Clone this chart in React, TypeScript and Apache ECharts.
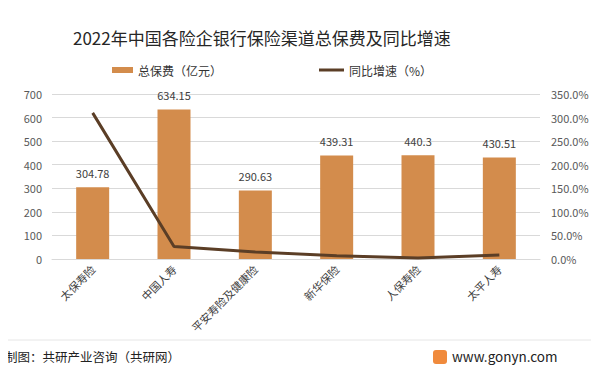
import React, { useEffect, useRef } from "react";
import * as echarts from "echarts";

const categories = ["太保寿险", "中国人寿", "平安寿险及健康险", "新华保险", "人保寿险", "太平人寿"];
const premiums = [304.78, 634.15, 290.63, 439.31, 440.3, 430.51];
const growth = [310, 26.7, 15, 7, 2, 8.5];
const leftTicks = { min: 0, max: 700, interval: 100 };
const rightTicks = { min: 0, max: 350, interval: 50 };

export default function App() {
  const ref = useRef<HTMLDivElement>(null);
  useEffect(() => {
    const chart = echarts.init(ref.current!, null, { renderer: "svg" });
    const font = "'Microsoft YaHei', 'Noto Sans CJK SC', sans-serif";
    const legendText = { fontSize: 12, color: "#333", fontFamily: font };
    chart.setOption({
      animation: false,
      backgroundColor: "#ffffff",
      title: {
        text: "2022年中国各险企银行保险渠道总保费及同比增速",
        left: 68,
        top: 24,
        textStyle: { fontSize: 17, fontWeight: "normal", color: "#262626", fontFamily: font },
      },
      legend: [
        {
          top: 59,
          left: 107,
          itemWidth: 21,
          itemHeight: 6,
          itemGap: 5,
          textStyle: legendText,
          data: [{ name: "总保费（亿元）", icon: "rect" }],
        },
        {
          top: 59,
          left: 314,
          itemWidth: 25,
          itemHeight: 3,
          textStyle: legendText,
          data: [{ name: "同比增速（%）", icon: "rect", itemStyle: { color: "#5b3e26" } }],
        },
      ],
      grid: { left: 52, right: 59, top: 94, bottom: 117 },
      xAxis: {
        type: "category",
        data: categories,
        axisLine: { lineStyle: { color: "#d9d9d9" } },
        axisTick: { show: false },
        axisLabel: { rotate: 45, fontSize: 11, color: "#404040", fontFamily: font, margin: 8 },
      },
      yAxis: [
        {
          type: "value",
          ...leftTicks,
          axisLine: { show: false },
          axisTick: { show: false },
          splitLine: { lineStyle: { color: "#d9d9d9" } },
          axisLabel: { fontSize: 11, color: "#595959", fontFamily: font, margin: 10 },
        },
        {
          type: "value",
          ...rightTicks,
          axisLine: { show: false },
          axisTick: { show: false },
          splitLine: { show: false },
          axisLabel: {
            fontSize: 11,
            color: "#595959",
            fontFamily: font,
            margin: 11,
            formatter: (v: number) => v.toFixed(1) + "%",
          },
        },
      ],
      series: [
        {
          name: "总保费（亿元）",
          type: "bar",
          data: premiums,
          barWidth: 33,
          itemStyle: { color: "#d38c4c" },
          label: {
            show: true,
            position: "top",
            distance: 9,
            fontSize: 11,
            color: "#404040",
            fontFamily: font,
          },
        },
        {
          name: "同比增速（%）",
          type: "line",
          yAxisIndex: 1,
          data: growth,
          symbol: "none",
          lineStyle: { color: "#5b3e26", width: 3 },
          itemStyle: { color: "#5b3e26" },
        },
      ],
      graphic: [
        { type: "line", shape: { x1: 0, y1: 340, x2: 599, y2: 340 }, style: { stroke: "#e6e6e6", lineWidth: 1 } },
        {
          type: "text",
          left: 5,
          top: 350,
          style: { text: "制图：共研产业咨询（共研网）", fontSize: 12.5, fill: "#222", fontFamily: font },
        },
        { type: "rect", shape: { x: 433, y: 350, width: 14, height: 14, r: 3 }, style: { fill: "#f08a3c" } },
        {
          type: "text",
          left: 452,
          top: 349,
          style: { text: "www.gonyn.com", fontSize: 13.5, fill: "#222", fontFamily: font },
        },
      ],
    });
    return () => chart.dispose();
  }, []);
  return <div ref={ref} style={{ width: 599, height: 376, margin: -8 }} />;
}
